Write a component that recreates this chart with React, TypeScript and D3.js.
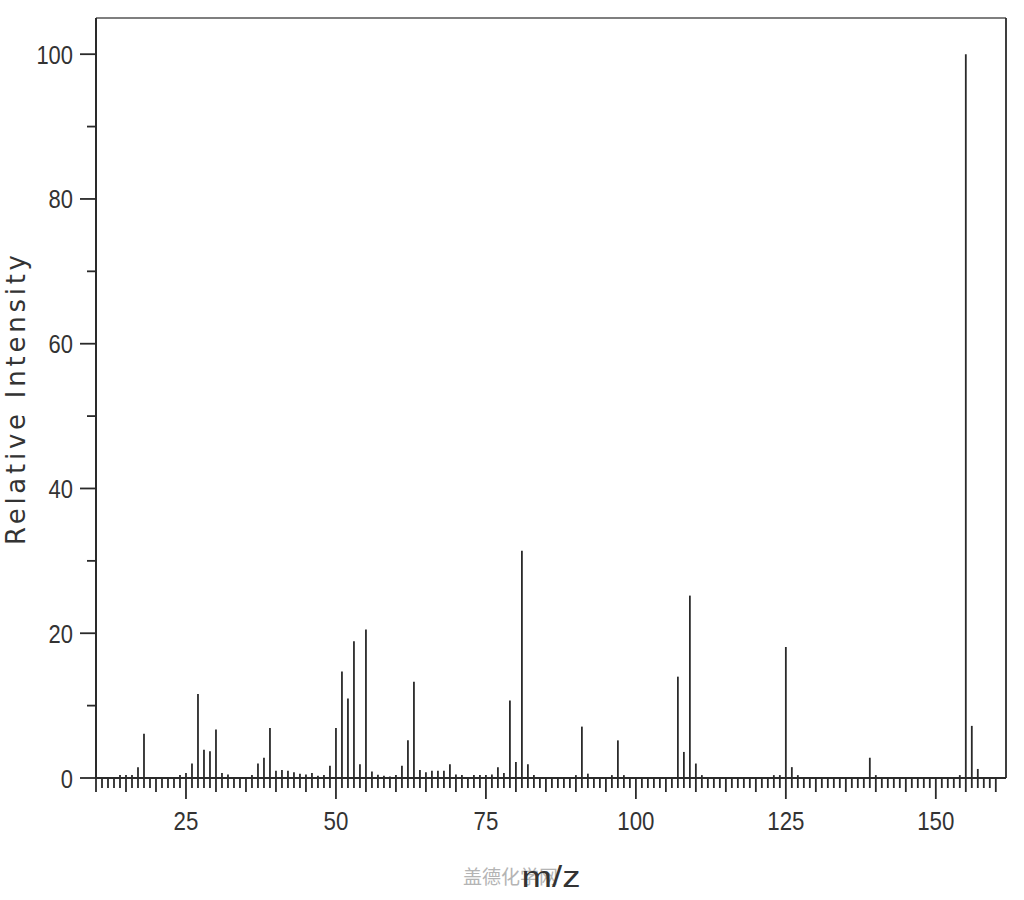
import React from "react";
import * as d3 from "d3";

const mzValues = [
  14, 15, 16, 17, 18, 24, 25, 26, 27, 28, 29, 30, 31, 32, 36, 37, 38, 39, 40,
  41, 42, 43, 44, 45, 46, 47, 48, 49, 50, 51, 52, 53, 54, 55, 56, 57, 58, 59,
  60, 61, 62, 63, 64, 65, 66, 67, 68, 69, 70, 71, 73, 74, 75, 76, 77, 78, 79,
  80, 81, 82, 83, 90, 91, 92, 96, 97, 98, 107, 108, 109, 110, 111, 123, 124,
  125, 126, 127, 139, 140, 154, 155, 156, 157,
];
const intensities = [
  0.4, 0.4, 0.4, 1.5, 6.1, 0.4, 0.7, 2.0, 11.6, 3.9, 3.7, 6.7, 0.7, 0.5, 0.4,
  2.0, 2.8, 6.9, 1.0, 1.1, 1.0, 0.8, 0.6, 0.5, 0.7, 0.3, 0.4, 1.7, 6.9, 14.7,
  11.0, 18.9, 1.9, 20.5, 0.9, 0.45, 0.3, 0.2, 0.4, 1.7, 5.2, 13.3, 1.1, 0.8,
  1.0, 1.0, 1.0, 1.9, 0.5, 0.4, 0.4, 0.4, 0.4, 0.5, 1.5, 0.7, 10.7, 2.2, 31.4,
  1.9, 0.4, 0.4, 7.1, 0.6, 0.4, 5.2, 0.4, 14.0, 3.6, 25.2, 2.0, 0.4, 0.4, 0.4,
  18.1, 1.5, 0.4, 2.8, 0.4, 0.4, 100, 7.2, 1.25,
];
const xTickLabels = [25, 50, 75, 100, 125, 150];
const yTickLabels = [0, 20, 40, 60, 80, 100];
const yMinorTicks = [10, 30, 50, 70, 90];
const xTitle = "m/z";
const yTitle = "Relative Intensity";
const watermark = "盖德化学网";

export default function App() {
  const W = 1024;
  const H = 900;
  const left = 96;
  const right = 1006;
  const top = 18;
  const bottom = 778;
  const x = d3.scaleLinear().domain([10, 161.7]).range([left, right]);
  const y = d3.scaleLinear().domain([0, 105]).range([bottom, top]);
  const minorX = d3.range(10, 161, 1);
  const ink = "#2a2a2a";
  const font = "'Liberation Sans', Arial, sans-serif";

  return (
    <svg
      width={W}
      height={H}
      style={{ position: "absolute", left: 0, top: 0, background: "#fff" }}
    >
      <rect x={0} y={0} width={W} height={H} fill="#fff" />
      {/* frame */}
      <line x1={left} x2={right} y1={top} y2={top} stroke="#555" strokeWidth={1.5} />
      <line x1={right} x2={right} y1={top} y2={bottom} stroke={ink} strokeWidth={1.8} />
      <line x1={left} x2={left} y1={top} y2={bottom + 1} stroke={ink} strokeWidth={2} />
      {/* x ticks */}
      {minorX.map((m) => {
        const len = m % 25 === 0 ? 21 : m % 5 === 0 ? 14 : 10;
        return (
          <line
            key={"xt" + m}
            x1={x(m)}
            x2={x(m)}
            y1={bottom}
            y2={bottom + len}
            stroke={ink}
            strokeWidth={1.8}
          />
        );
      })}
      {/* y ticks */}
      {yTickLabels.map((v) => (
        <line key={"yt" + v} x1={left - 16} x2={left} y1={y(v)} y2={y(v)} stroke={ink} strokeWidth={1.8} />
      ))}
      {yMinorTicks.map((v) => (
        <line key={"ym" + v} x1={left - 9} x2={left} y1={y(v)} y2={y(v)} stroke={ink} strokeWidth={1.8} />
      ))}
      {/* peaks */}
      {mzValues.map((m, i) => (
        <line
          key={"p" + m}
          x1={x(m)}
          x2={x(m)}
          y1={y(0)}
          y2={y(intensities[i])}
          stroke={ink}
          strokeWidth={1.8}
        />
      ))}
      {/* baseline */}
      <line x1={left} x2={right} y1={bottom} y2={bottom} stroke={ink} strokeWidth={2} />
      {/* x tick labels */}
      {xTickLabels.map((v) => (
        <text
          key={"xl" + v}
          x={x(v)}
          y={830}
          fontFamily={font}
          fontSize={26}
          fill="#333"
          textAnchor="middle"
          textLength={String(v).length * 12.4}
          lengthAdjust="spacingAndGlyphs"
        >
          {v}
        </text>
      ))}
      {/* y tick labels */}
      {yTickLabels.map((v) => (
        <text
          key={"yl" + v}
          x={73}
          y={y(v) + 9.5}
          fontFamily={font}
          fontSize={26}
          fill="#333"
          textAnchor="end"
          textLength={String(v).length * 12.2}
          lengthAdjust="spacingAndGlyphs"
        >
          {v}
        </text>
      ))}
      {/* watermark */}
      <text x={463} y={884} fontFamily="'Noto Sans CJK SC', sans-serif" fontSize={19} fill="#b4b4b4">
        {watermark}
      </text>
      {/* axis titles */}
      <text
        x={551}
        y={887}
        fontFamily={font}
        fontSize={30}
        fill="#333"
        textAnchor="middle"
        textLength={59}
        lengthAdjust="spacingAndGlyphs"
      >
        {xTitle}
      </text>
      <text
        transform="translate(25,400) rotate(-90)"
        fontFamily="'DejaVu Sans', sans-serif"
        fontSize={26}
        fill="#333"
        textAnchor="middle"
        textLength={290}
        lengthAdjust="spacing"
      >
        {yTitle}
      </text>
    </svg>
  );
}
